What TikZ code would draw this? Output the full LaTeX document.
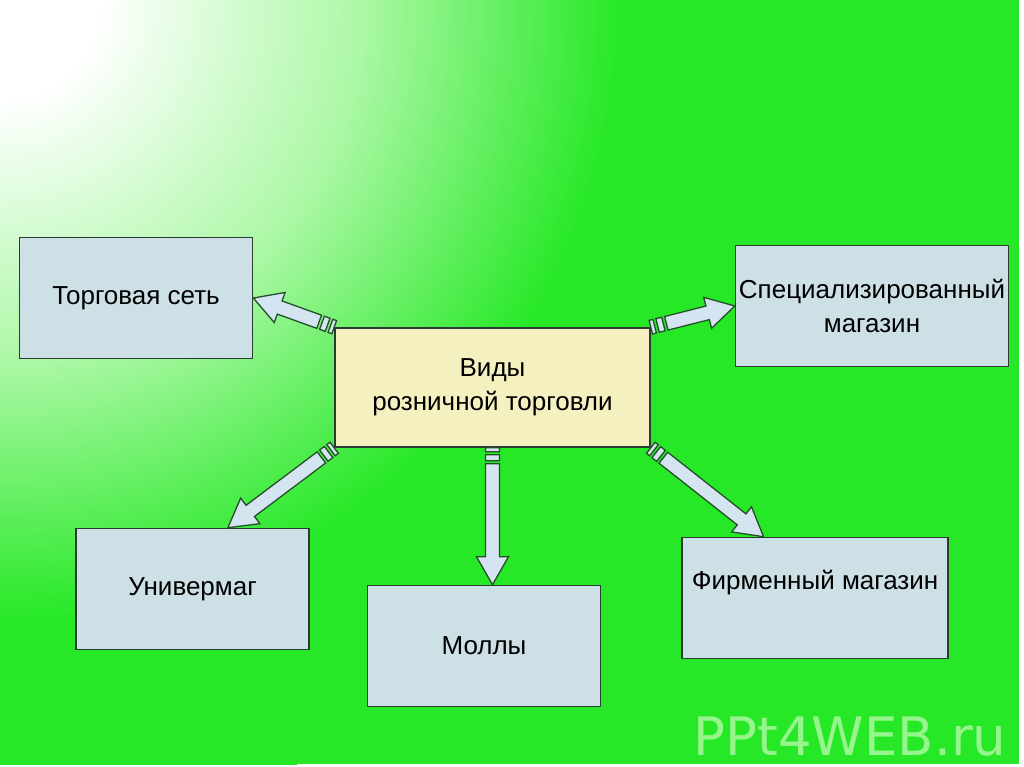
\documentclass[tikz,border=0pt]{standalone}
\usepackage{fontspec}
\setmainfont{Liberation Sans}
\newfontfamily\markfont{DejaVu Sans}
\usetikzlibrary{positioning}
\usetikzlibrary{calc}
\definecolor{bggreen}{RGB}{38,232,38}
\definecolor{bglight}{RGB}{172,248,166}
\definecolor{boxblue}{RGB}{204,224,230}
\definecolor{boxyellow}{RGB}{245,240,192}
\definecolor{boxline}{RGB}{40,60,50}
\definecolor{arrowfill}{RGB}{212,228,240}
\definecolor{arrowline}{RGB}{35,80,40}
\definecolor{markgreen}{RGB}{150,245,140}
\pgfdeclareradialshading{glow}{\pgfpoint{0bp}{0bp}}{color(0bp)=(white); color(3bp)=(white); color(11bp)=(bglight); color(19bp)=(bggreen); color(25bp)=(bggreen); color(50bp)=(bggreen)}
\newcommand{\stripedarrow}[2]{%
\draw[blockarrow] let \p1=(#1), \p2=(#2), \n1={atan2(\y2-\y1,\x2-\x1)}, \n2={veclen(\x2-\x1,\y2-\y1)} in
  [shift={(\p1)}, rotate=\n1]
  (16pt,-7pt) -- (\n2-28pt,-7pt) -- (\n2-28pt,-16pt) -- (\n2,0pt) -- (\n2-28pt,16pt) -- (\n2-28pt,7pt) -- (16pt,7pt) -- cycle
  (0pt,-7pt) rectangle (4pt,7pt)
  (7pt,-7pt) rectangle (13pt,7pt);
}
\begin{document}
\begin{tikzpicture}[x=1pt, y=-1pt, node distance=100pt and 300pt, on grid,
box/.style={rectangle, draw=boxline, line width=1.6pt, fill=boxblue, minimum width=233pt, minimum height=121pt, align=center, font=\fontsize{26}{34}\selectfont},
blockarrow/.style={draw=arrowline, fill=arrowfill, line width=1.3pt, line join=miter}]
\useasboundingbox (0,0) rectangle (1024,767);
\fill[white] (0,0) rectangle (1024,767);
\begin{scope}
\clip (0,0) rectangle (1019,764);
\fill[bggreen] (0,0) rectangle (1019,764);
\shade[shading=glow] (0,0) circle (820pt);
\end{scope}
\node[box, fill=boxyellow, minimum width=315pt, minimum height=119pt] (types) at (492.5,387.5) {Виды\\розничной торговли};
\node[box] (chain) [above left=89.5pt and 356.5pt of types] {Торговая сеть};
\node[box, minimum width=266pt] (special) [above right=81.5pt and 379.5pt of types] {Специализированный\\магазин};
\node[box] (univ) [below left=201.5pt and 300pt of types] {Универмаг};
\node[box] (malls) [below left=258.5pt and 8.5pt of types] {Моллы};
\node[box, minimum width=266pt, text depth=36pt] (brand) [below right=210.5pt and 322.5pt of types] {Фирменный магазин};
\stripedarrow{types.north west}{chain.east}
\stripedarrow{types.north east}{special.west}
\stripedarrow{types.south west}{univ.60}
\stripedarrow{types.south}{types.south |- malls.north}
\stripedarrow{types.south east}{brand.130}
\node[text=markgreen, font=\markfont\fontsize{53}{60}\selectfont, anchor=base east] (mark) at (1010,755) {PPt4WEB.ru};
\end{tikzpicture}
\end{document}
